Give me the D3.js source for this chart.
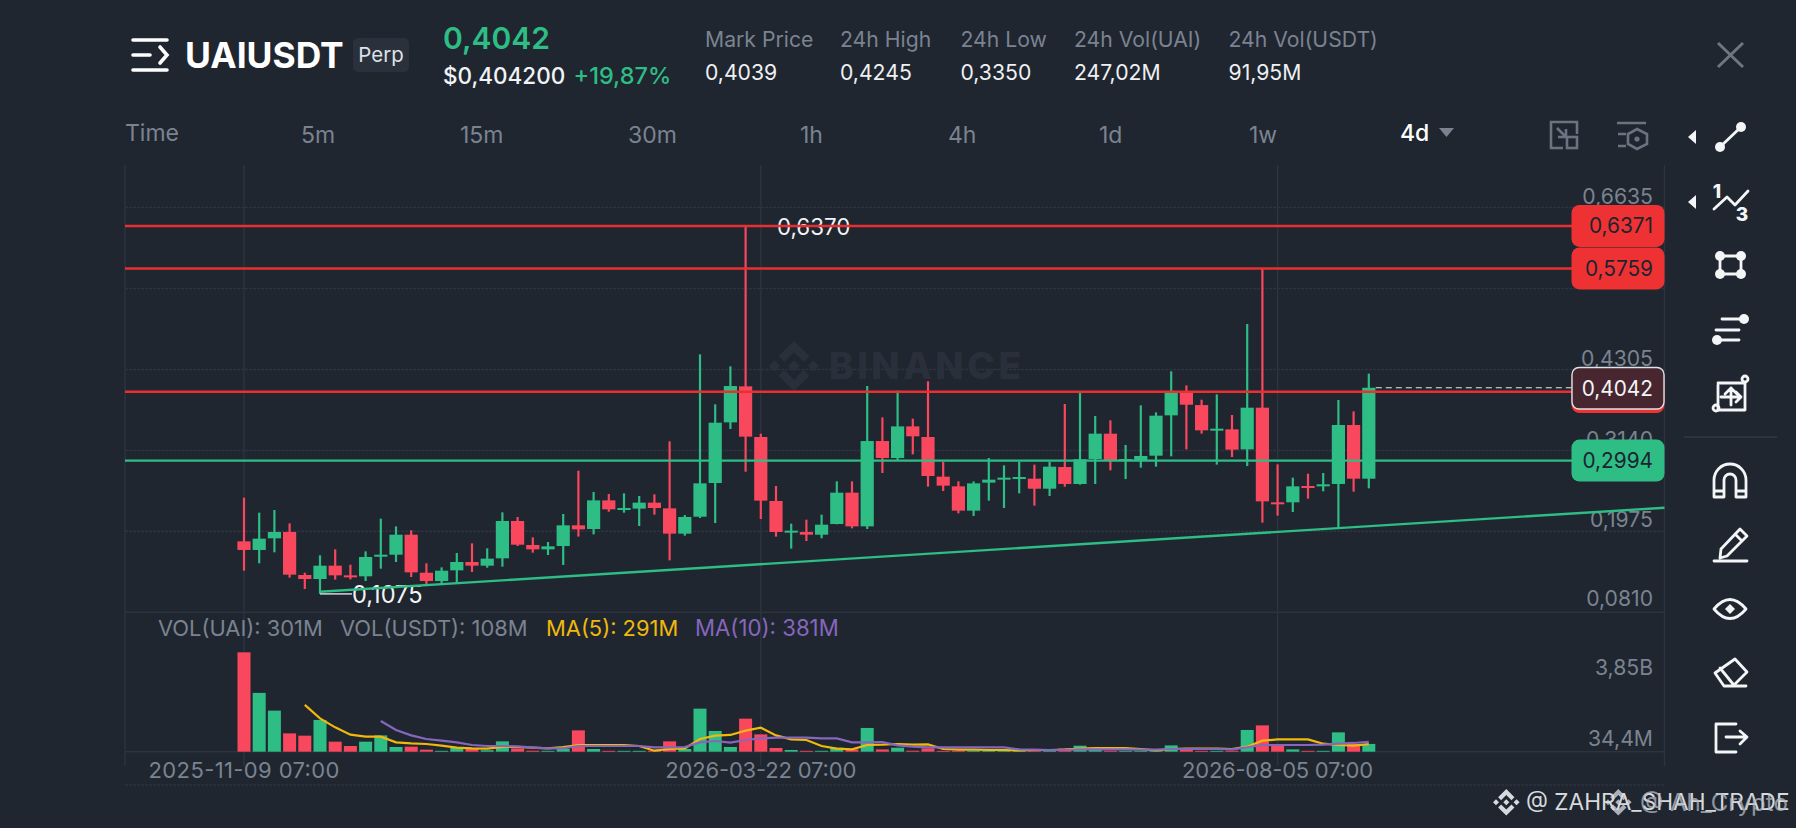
<!DOCTYPE html>
<html><head><meta charset="utf-8">
<script src="https://cdn.jsdelivr.net/npm/d3@7/dist/d3.min.js"></script>
<style>html,body{margin:0;padding:0;background:#1f2630;overflow:hidden}svg{display:block;font-family:Inter,"Noto Sans",sans-serif}</style>
</head><body><svg id="c" width="1796" height="828"></svg>
<script>
const opens=[.1831,.1707,.1875,.1966,.1347,.1289,.1481,.1342,.1328,.1611,.1639,.1927,.1380,.1260,.1414,.1534,.1481,.1587,.2124,.1779,.1716,.1764,.2062,.2009,.2421,.2292,.2302,.2388,.2306,.1942,.2186,.2671,.3544,.4062,.3333,.2412,.1961,.1966,.1927,.2081,.2532,.2047,.3275,.3031,.3486,.3333,.2762,.2623,.2273,.2676,.2728,.2738,.2733,.2589,.2901,.2657,.3016,.3381,.2997,.3002,.3064,.3645,.3971,.3793,.3434,.3443,.3155,.3755,.2393,.2393,.2628,.2623,.2657,.3506,.2733];
const closes=[.1707,.1870,.1966,.1352,.1289,.1481,.1342,.1313,.1606,.1639,.1927,.1385,.1260,.1409,.1534,.1481,.1582,.2124,.1783,.1716,.1759,.2062,.2004,.2421,.2292,.2311,.2388,.2311,.1942,.2182,.2666,.3539,.4067,.3338,.2417,.1966,.1985,.1927,.2071,.2532,.2047,.3275,.3031,.3486,.3343,.2772,.2633,.2273,.2666,.2719,.2748,.2757,.2589,.2906,.2657,.3012,.3381,.3002,.3016,.3060,.3640,.3971,.3798,.3429,.3453,.3151,.3755,.2407,.2378,.2623,.2609,.2652,.3506,.2733,.4042];
const highs=[.2460,.2244,.2282,.2090,.1380,.1630,.1716,.1495,.1687,.2158,.2047,.1990,.1515,.1457,.1663,.1802,.1731,.2249,.2182,.1889,.1822,.2225,.2848,.2541,.2513,.2522,.2484,.2508,.3271,.2210,.4523,.3803,.4350,.6370,.3381,.2628,.2086,.2143,.2215,.2695,.2695,.4067,.3616,.4000,.3597,.4134,.2978,.2695,.2695,.3031,.2925,.2978,.2935,.2978,.3808,.3971,.3635,.3573,.3218,.3789,.3688,.4278,.4076,.3870,.3947,.3650,.4959,.5759,.2940,.2748,.2805,.2815,.3865,.3702,.4245];
const lows=[.1409,.1515,.1673,.1308,.1145,.1075,.1280,.1284,.1260,.1438,.1534,.1318,.1203,.1212,.1227,.1390,.1452,.1467,.1764,.1668,.1635,.1491,.1899,.1932,.2258,.2244,.2052,.2215,.1558,.1913,.2167,.2095,.3448,.2834,.2153,.1899,.1726,.1836,.1875,.2076,.2018,.2009,.2815,.3002,.3083,.2618,.2556,.2234,.2196,.2417,.2311,.2522,.2345,.2484,.2618,.2647,.2657,.2853,.2728,.2892,.2906,.3055,.3155,.3381,.2935,.3045,.2915,.2100,.2201,.2253,.2445,.2551,.2023,.2546,.2594];
const volumes=[3850,2278,1591,710,621,1230,388,221,388,632,182,194,78,34.4,167,128,58,400,128,39,34.4,105,826,105,34.4,34.4,34.4,39,400,105,1668,803,182,1280,671,144,66,34.4,34.4,155,89,920,89,155,39,128,34.4,34.4,34.4,34.4,34.4,34.4,39,34.4,128,233,89,34.4,34.4,34.4,34.4,244,89,34.4,34.4,39,842,1020,260,89,34.4,34.4,749,299,301];
const ma5=[null,null,null,null,1812,1292,943,660,582,582,361,322,299,233,155,128,116,182,182,155,128,182,260,260,260,260,221,39,105,128,493,621,648,815,931,632,477,454,221,116,89,260,272,299,272,283,105,78,78,66,66,50,66,66,78,116,144,144,144,105,50,105,116,116,116,105,194,427,477,477,477,310,260,233,291];
const ma10=[null,null,null,null,null,null,null,null,null,1191,842,632,493,427,361,260,221,221,206,155,128,128,221,221,221,221,221,167,167,182,361,415,349,454,516,543,543,543,516,516,361,361,376,244,194,167,167,167,167,167,167,89,78,66,66,89,89,89,89,78,78,105,105,105,105,89,167,260,260,260,260,272,310,338,381];
const priceTicks=[.6635,.5470,.4305,.3140,.1975,.0810];
const priceTickLabels=["0,6635","","0,4305","0,3140","0,1975","0,0810"];
const dateTickIdx=[0,34,68];
const dateTickLabels=["2025-11-09 07:00","2026-03-22 07:00","2026-08-05 07:00"];
const volTicks=[3850,34.4];
const volTickLabels=["3,85B","34,4M"];
const redLevels=[.6371,.5759,.3985];
const greenLevels=[.2994];
const trendValues=[.1106,.2315];
const headerStats=[["Mark Price","0,4039"],["24h High","0,4245"],["24h Low","0,3350"],["24h Vol(UAI)","247,02M"],["24h Vol(USDT)","91,95M"]];
const intervals=["5m","15m","30m","1h","4h","1d","1w"];

const GREEN="#2ebd85",RED="#f9475e",LINE_RED="#e7302f",GRID="#2d333f",MUTED="#7b8390",TXT="#eaecef";
const LOGO="M38.73 53.2l24.59-24.58 24.6 24.6 14.3-14.31L63.32 0 24.43 38.9zM0 63.31l14.3-14.31 14.31 14.31-14.31 14.3zM38.73 73.41l24.59 24.59 24.6-24.6 14.31 14.29-38.9 38.91-38.91-38.88-.02-.02zM98 63.31l14.3-14.31 14.31 14.3-14.31 14.32zM77.83 63.3L63.32 48.78 52.59 59.51l-1.24 1.23-2.54 2.54 14.51 14.5 14.51-14.47z";
const svg=d3.select("#c");
const T=(x,y,s,o={})=>svg.append("text").attr("x",x).attr("y",y).attr("dy",".36em").attr("fill",o.fill||TXT)
  .attr("font-size",o.size||20).attr("font-weight",o.weight||400).attr("text-anchor",o.anchor||"start").text(s);

const x=d3.scaleLinear().domain([0,74]).range([244,1368.8]);
const y=d3.scaleLinear().domain([.081,.6635]).range([612.3,207.6]);
const yv=d3.scaleLinear().domain([0,3850]).range([751.7,652.3]);
const idx=d3.range(opens.length);

// header
const ic=svg.append("g").attr("fill","none").attr("stroke","#fff").attr("stroke-width",3.6).attr("stroke-linecap","round");
ic.append("path").attr("d","M133 40H167M133 55H150M133 70H167M160 47L167 55L160 63");
T(185,55,"UAIUSDT",{size:35.4,weight:650,fill:"#fff"});
svg.append("rect").attr("x",353).attr("y",38).attr("width",56).attr("height",34).attr("rx",5).attr("fill","#2a303c");
T(381,55,"Perp",{size:20.4,anchor:"middle",fill:"#dfe2e6"});
T(443,38,"0,4042",{size:30,weight:600,fill:GREEN});
T(443,76,"$0,404200",{size:22.5,fill:"#f2f3f5",weight:500});
T(573.5,76,"+19,87%",{size:23.5,fill:GREEN,weight:500});
const statX=[705,840,960.5,1074,1228.5];
headerStats.forEach((d,i)=>{T(statX[i],39,d[0],{size:21.2,fill:MUTED});T(statX[i],72,d[1],{size:21.2,fill:"#eef0f2"});});
svg.append("path").attr("d","M1718 43L1743 67M1743 43L1718 67").attr("stroke","#6f7682").attr("stroke-width",3).attr("fill","none");

// interval row
T(125,133,"Time",{size:23,fill:MUTED});
const intX=[301,460,628,800,948,1099,1249];
intervals.forEach((d,i)=>T(intX[i],135,d,{size:23,fill:MUTED}));
T(1400,133,"4d",{size:23,weight:500,fill:"#fff"});
svg.append("path").attr("d","M1439 128H1454L1446.5 137Z").attr("fill","#7b8390");
const g1=svg.append("g").attr("fill","none").attr("stroke","#6b7280").attr("stroke-width",2.6);
g1.append("path").attr("d","M1563 148H1551V122H1577V134M1557 128L1566 137M1558 137H1566V129");
g1.append("rect").attr("x",1567).attr("y",137).attr("width",10).attr("height",11);
g1.append("path").attr("d","M1617 123H1646M1618 134H1626M1618 146H1626M1637 129L1647 134V144L1637 149L1628 144V134Z");
svg.append("circle").attr("cx",1637).attr("cy",139).attr("r",2.6).attr("fill","#6b7280");

// grid
const grid=svg.append("g").attr("stroke",GRID).attr("stroke-width",1.5);
priceTicks.forEach(v=>grid.append("line").attr("x1",125).attr("x2",1664.5).attr("y1",y(v)).attr("y2",y(v)).attr("stroke-dasharray",v===.081?null:"3 1"));
dateTickIdx.forEach(i=>grid.append("line").attr("x1",x(i)).attr("x2",x(i)).attr("y1",165).attr("y2",766));
grid.append("line").attr("x1",125).attr("x2",125).attr("y1",165).attr("y2",766);
grid.append("line").attr("x1",1664.5).attr("x2",1664.5).attr("y1",165).attr("y2",766);
grid.append("line").attr("x1",125).attr("x2",1664.5).attr("y1",yv(0)).attr("y2",yv(0));
grid.append("line").attr("x1",125).attr("x2",1664.5).attr("y1",785).attr("y2",785).attr("stroke-dasharray","3 1");

// Binance watermark
svg.append("path").attr("d",LOGO).attr("fill","#2a303b").attr("transform","translate(769,341) scale(.395)");
svg.append("text").attr("x",829).attr("y",366).attr("dy",".36em").attr("font-size",37).attr("font-weight",800).attr("fill","#2a303b").attr("letter-spacing","3.6").text("BINANCE");

// y tick labels
priceTicks.forEach((v,i)=>{if(priceTickLabels[i])T(1653,y(v)-(v===.081?14:11.5),priceTickLabels[i],{size:21.2,anchor:"end",fill:MUTED});});

// candles
const col=i=>closes[i]>=opens[i]?GREEN:RED;
svg.append("g").selectAll("line").data(idx).join("line").attr("x1",x).attr("x2",x)
  .attr("y1",i=>y(highs[i])).attr("y2",i=>y(lows[i])).attr("stroke",col).attr("stroke-width",2.2);
svg.append("g").selectAll("rect").data(idx).join("rect").attr("x",i=>x(i)-6.6).attr("width",13.2)
  .attr("y",i=>y(Math.max(opens[i],closes[i]))).attr("height",i=>Math.max(2,Math.abs(y(opens[i])-y(closes[i]))))
  .attr("fill",col);

// low / high markers
svg.append("line").attr("x1",x(5)).attr("x2",352).attr("y1",y(.1075)).attr("y2",y(.1075)).attr("stroke","#c9ccd1").attr("stroke-width",1.6);
T(352,595,"0,1075",{size:23.6,fill:"#f2f3f5"});
T(777,227,"0,6370",{size:22.3,fill:"#f2f3f5"});

// levels
redLevels.forEach(v=>svg.append("line").attr("x1",125).attr("x2",1572).attr("y1",y(v)).attr("y2",y(v)).attr("stroke",LINE_RED).attr("stroke-width",2.5));
greenLevels.forEach(v=>svg.append("line").attr("x1",125).attr("x2",1572).attr("y1",y(v)).attr("y2",y(v)).attr("stroke",GREEN).attr("stroke-width",2.3));
svg.append("line").attr("x1",x(5)).attr("x2",1664.5).attr("y1",y(trendValues[0])).attr("y2",y(trendValues[1])).attr("stroke",GREEN).attr("stroke-width",2.3);
svg.append("line").attr("x1",x(74)+7).attr("x2",1572).attr("y1",y(closes[74])).attr("y2",y(closes[74])).attr("stroke","#e6e8ea").attr("stroke-width",1.2).attr("stroke-dasharray","6 4");

// tags
const tag=(v,fill,label,tc)=>{const c=y(v);
  svg.append("rect").attr("x",1571.5).attr("width",93).attr("y",c-21).attr("height",42).attr("rx",8).attr("fill",fill);
  T(1653,c,label,{size:20.8,anchor:"end",fill:tc||"#1c2430"});};
tag(.6371,"#ee3233","0,6371");
tag(.5759,"#ee3233","0,5759");
svg.append("rect").attr("x",1571.5).attr("width",93).attr("y",371).attr("height",42).attr("rx",8).attr("fill","#ee3233");
svg.append("rect").attr("x",1572).attr("width",92).attr("y",367.5).attr("height",41.5).attr("rx",7).attr("fill","#47262f").attr("stroke","#dfe2e6").attr("stroke-width",1.4);
T(1653,388.5,"0,4042",{size:20.8,anchor:"end",fill:"#f4f5f6"});
tag(.2994,GREEN,"0,2994");

// volume pane
T(158,628,"VOL(UAI): 301M",{size:21.9,fill:MUTED});
T(340,628,"VOL(USDT): 108M",{size:21.9,fill:MUTED});
T(546,628,"MA(5): 291M",{size:21.9,fill:"#f0b90b"});
T(695,628,"MA(10): 381M",{size:22.2,fill:"#8667bd"});
svg.append("g").selectAll("rect").data(idx).join("rect").attr("x",i=>x(i)-6.5).attr("width",13)
  .attr("y",i=>yv(volumes[i])).attr("height",i=>yv(0)-yv(volumes[i])).attr("fill",col);
const ln=d3.line().x(d=>x(d.i)).y(d=>yv(d.v));
[[ma5,"#f0b90b"],[ma10,"#8667bd"]].forEach(([a,c])=>svg.append("path")
  .attr("d",ln(a.map((v,i)=>({i,v})).filter(d=>d.v!==null))).attr("fill","none").attr("stroke",c).attr("stroke-width",2.2));
volTicks.forEach((v,i)=>T(1653,i?738:667.5,volTickLabels[i],{size:21.2,anchor:"end",fill:MUTED}));
dateTickIdx.forEach((d,i)=>T(x(d),770,dateTickLabels[i],{size:22,anchor:"middle",fill:MUTED}).attr("textLength",191).attr("lengthAdjust","spacing"));

// toolbar
const tb=svg.append("g").attr("fill","none").attr("stroke","#f4f5f6").attr("stroke-width",2.8).attr("stroke-linecap","round").attr("stroke-linejoin","round");
const wf="#f4f5f6";
const dot=(cx,cy,r)=>svg.append("circle").attr("cx",cx).attr("cy",cy).attr("r",r).attr("fill",wf);
[137,202].forEach(c=>svg.append("path").attr("d",`M1688 ${c}L1696 ${c-7}V${c+7}Z`).attr("fill",wf));
tb.append("path").attr("d","M1720 147L1741 127");dot(1720,147,5);dot(1741,127,5);
tb.append("path").attr("d","M1714 209L1727 197L1735 205L1748 191");
T(1717,191,"1",{size:19,weight:800,fill:wf,anchor:"middle"});
T(1742,214,"3",{size:19,weight:800,fill:wf,anchor:"middle"});
tb.append("path").attr("d","M1720 256H1741V274H1720Z");[[1720,256],[1741,256],[1720,274],[1741,274]].forEach(d=>dot(d[0],d[1],5));
tb.append("path").attr("d","M1722 319H1740M1716 330H1739M1716 340H1739");dot(1744,319,5);dot(1717,340,5);
tb.append("path").attr("d","M1718 385V410H1745V383H1718M1731 388V405M1725 394L1731 388L1737 394M1721 397H1741M1736 392L1741 397L1736 402");
[[1745,379],[1716,408]].forEach(d=>tb.append("circle").attr("cx",d[0]).attr("cy",d[1]).attr("r",3));
svg.append("line").attr("x1",1684).attr("x2",1777).attr("y1",437).attr("y2",437).attr("stroke",GRID).attr("stroke-width",2);
tb.append("path").attr("d","M1714 497V480A16 16 0 0 1 1746 480V497H1736V480A6 6 0 0 0 1724 480V497ZM1714 491H1724M1736 491H1746");
tb.append("path").attr("d","M1740 529L1747 536L1727 556L1720 558L1721 549ZM1735 534L1742 541M1714 561H1747");
tb.append("path").attr("d","M1714 609Q1730 590 1746 609Q1730 628 1714 609Z");
svg.append("path").attr("d","M1730 604L1735 609L1730 614L1725 609Z").attr("fill",wf);
tb.append("path").attr("d","M1715 673L1735 659L1747 672L1733 686H1724ZM1720 668L1733 684M1724 686H1746");
tb.append("path").attr("d","M1736 724H1716V752H1736M1726 737H1746M1740 731L1747 737L1740 744");

// bottom credits
svg.append("path").attr("d",LOGO).attr("fill","#d6d9dd").attr("transform","translate(1493,789) scale(.21)");
svg.append("path").attr("d",LOGO).attr("fill","#c6c9ce").attr("opacity",.85).attr("transform","translate(1605,789) scale(.21)");
T(1526,802,"@ ZAHRA_SHAH_TRADE",{size:22.7,fill:"#d6d9dd"});
T(1640,802,"@ Ah_Crypto",{size:24,fill:"#b6bac0"}).attr("opacity",.75);
</script></body></html>
